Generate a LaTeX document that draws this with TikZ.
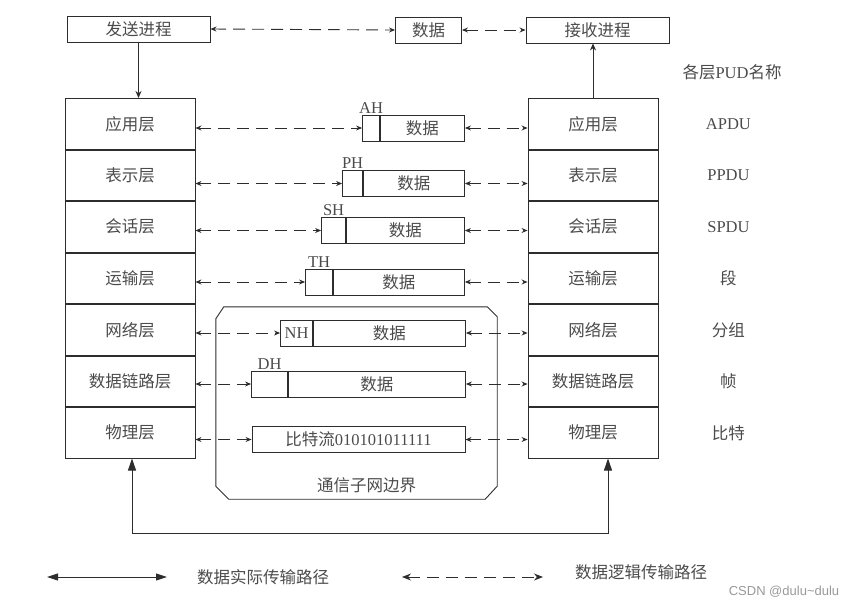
\documentclass[tikz,border=0pt]{standalone}
\usepackage{fontspec}
\setmainfont{Liberation Serif}
\newfontfamily\cjk{Noto Sans CJK SC}
\newfontfamily\wmfont{Liberation Sans}
\usetikzlibrary{arrows.meta, positioning}
\definecolor{inkcolor}{RGB}{45, 45, 45}
\definecolor{textcolor}{RGB}{75, 75, 75}
\newcommand{\zh}[1]{{\cjk #1}}
\tikzset{
  layer/.style={
    rectangle, draw=inkcolor, line width=0.9pt,
    minimum width=130pt, minimum height=50.6pt, inner sep=0pt,
    font=\fontsize{16.5}{18}\selectfont, text=textcolor
  },
  procbox/.style={
    rectangle, draw=inkcolor, line width=0.9pt,
    minimum width=143pt, minimum height=26pt, inner sep=0pt,
    font=\fontsize{16.5}{18}\selectfont, text=textcolor
  },
  hdrbox/.style={
    rectangle, draw=inkcolor, line width=0.9pt,
    minimum height=26pt, inner sep=0pt,
    font=\fontsize{16.5}{18}\selectfont, text=textcolor
  },
  databox/.style={hdrbox},
  tag/.style={font=\fontsize{16.5}{18}\selectfont, text=textcolor, inner sep=1pt},
  subnet/.style={rectangle, minimum width=281pt, minimum height=192pt, inner sep=0pt},
  border/.style={draw=inkcolor, line width=0.9pt},
  arr/.style={-{Stealth[length=7pt, width=6pt]}, line width=0.9pt, color=inkcolor},
  darr/.style={{Stealth[length=6pt, width=5pt]}-{Stealth[length=6pt, width=5pt]},
    line width=0.9pt, color=inkcolor, dash pattern=on 12pt off 7pt},
  parr/.style={{Triangle[length=12pt, width=8pt]}-{Triangle[length=12pt, width=8pt]},
    line width=0.9pt, color=inkcolor}
}

\begin{document}
\begin{tikzpicture}[x=1pt, y=-1pt]
  \useasboundingbox (0,0) rectangle (860,606);

  % ── Processes ──────────────────────────────────────────────────
  \node[procbox] (send) at (138.5,29) {\zh{发送进程}};
  \node[procbox, minimum width=66pt] (topdata) at (428.5,30) {\zh{数据}};
  \node[procbox] (recv) at (597.5,30) {\zh{接收进程}};

  % ── Communication subnet ───────────────────────────────────────
  \node[subnet] (subnet) at (356.5,403) {};
  \draw[border]
    ([yshift=-12pt]subnet.north west) -- ([xshift=8pt]subnet.north west)
    -- ([xshift=-10pt]subnet.north east) -- ([yshift=-10pt]subnet.north east)
    -- ([yshift=13pt]subnet.south east) -- ([xshift=-12pt]subnet.south east)
    -- ([xshift=13pt]subnet.south west) -- ([yshift=13pt]subnet.south west) -- cycle;
  \node[tag, anchor=south] (subnetlbl) at ([xshift=10pt, yshift=5pt]subnet.south) {\zh{通信子网边界}};

  % ── Sender stack ───────────────────────────────────────────────
  \node[layer] (L1) at (130,123.75) {\zh{应用层}};
  \node[layer, below=0pt of L1] (L2) {\zh{表示层}};
  \node[layer, below=0pt of L2] (L3) {\zh{会话层}};
  \node[layer, below=0pt of L3] (L4) {\zh{运输层}};
  \node[layer, below=0pt of L4] (L5) {\zh{网络层}};
  \node[layer, below=0pt of L5] (L6) {\zh{数据链路层}};
  \node[layer, below=0pt of L6] (L7) {\zh{物理层}};

  % ── Receiver stack ─────────────────────────────────────────────
  \node[layer] (R1) at (593,123.75) {\zh{应用层}};
  \node[layer, below=0pt of R1] (R2) {\zh{表示层}};
  \node[layer, below=0pt of R2] (R3) {\zh{会话层}};
  \node[layer, below=0pt of R3] (R4) {\zh{运输层}};
  \node[layer, below=0pt of R4] (R5) {\zh{网络层}};
  \node[layer, below=0pt of R5] (R6) {\zh{数据链路层}};
  \node[layer, below=0pt of R6] (R7) {\zh{物理层}};

  % ── PDU names ──────────────────────────────────────────────────
  \node[tag] (pduhead) at (732,72) {\zh{各层}PUD\zh{名称}};
  \node[tag] (apdu) at ([xshift=70pt]R1.east) {APDU};
  \node[tag] (ppdu) at ([xshift=70pt]R2.east) {PPDU};
  \node[tag] (spdu) at ([xshift=70pt]R3.east) {SPDU};
  \node[tag] (tpdu) at ([xshift=70pt]R4.east) {\zh{段}};
  \node[tag] (npdu) at ([xshift=70pt]R5.east) {\zh{分组}};
  \node[tag] (dpdu) at ([xshift=70pt]R6.east) {\zh{帧}};
  \node[tag] (bpdu) at ([xshift=70pt]R7.east) {\zh{比特}};

  % ── Packets ────────────────────────────────────────────────────
  \node[hdrbox, minimum width=17pt, anchor=east] (ah) at (380,128) {};
  \node[databox, minimum width=84pt, right=0pt of ah] (ahdata) {\zh{数据}};
  \node[tag, above=0pt of ah] (ahlbl) {AH};

  \node[hdrbox, minimum width=20pt, anchor=east] (ph) at (363,183.5) {};
  \node[databox, minimum width=101pt, right=0pt of ph] (phdata) {\zh{数据}};
  \node[tag, above=0pt of ph] (phlbl) {PH};

  \node[hdrbox, minimum width=24pt, anchor=east] (sh) at (346,230.5) {};
  \node[databox, minimum width=118pt, right=0pt of sh] (shdata) {\zh{数据}};
  \node[tag, above=0pt of sh] (shlbl) {SH};

  \node[hdrbox, minimum width=27pt, anchor=east] (th) at (333,282) {};
  \node[databox, minimum width=131pt, right=0pt of th] (thdata) {\zh{数据}};
  \node[tag, above=0pt of th] (thlbl) {TH};

  \node[hdrbox, minimum width=32pt, anchor=east] (nh) at (313,333) {NH};
  \node[databox, minimum width=152pt, right=0pt of nh] (nhdata) {\zh{数据}};

  \node[hdrbox, minimum width=36pt, anchor=east] (dh) at (288,384) {};
  \node[databox, minimum width=177pt, right=0pt of dh] (dhdata) {\zh{数据}};
  \node[tag, above=0pt of dh] (dhlbl) {DH};

  \node[databox, minimum width=213pt] (bits) at (358.5,439.5) {\zh{比特流}010101011111};

  % ── Process arrows ─────────────────────────────────────────────
  \draw[arr] (send.south) -- (send.south |- L1.north);
  \draw[arr] (R1.north) -- (R1.north |- recv.south);
  \draw[darr] (send.east) -- (topdata.west);
  \draw[darr] (topdata.east) -- (recv.west);

  % ── Logical paths ──────────────────────────────────────────────
  \draw[darr] (L1.east |- ah.west) -- (ah.west);
  \draw[darr] (L2.east |- ph.west) -- (ph.west);
  \draw[darr] (L3.east |- sh.west) -- (sh.west);
  \draw[darr] (L4.east |- th.west) -- (th.west);
  \draw[darr] (L5.east |- nh.west) -- (nh.west);
  \draw[darr] (L6.east |- dh.west) -- (dh.west);
  \draw[darr] (L7.east |- bits.west) -- (bits.west);

  \draw[darr] (ahdata.east) -- (ahdata.east -| R1.west);
  \draw[darr] (phdata.east) -- (phdata.east -| R2.west);
  \draw[darr] (shdata.east) -- (shdata.east -| R3.west);
  \draw[darr] (thdata.east) -- (thdata.east -| R4.west);
  \draw[darr] (nhdata.east) -- (nhdata.east -| R5.west);
  \draw[darr] (dhdata.east) -- (dhdata.east -| R6.west);
  \draw[darr] (bits.east) -- (bits.east -| R7.west);

  % ── Physical path ──────────────────────────────────────────────
  \coordinate (busL) at (132,533);
  \coordinate (busR) at (608,533);
  \draw[parr] (L7.south -| busL) -- (busL) -- (busR) -- (busR |- R7.south);

  % ── Legend ─────────────────────────────────────────────────────
  \coordinate (realA) at (47,577);
  \coordinate (realB) at (167,577);
  \draw[parr, {Triangle[length=11pt, width=7pt]}-{Triangle[length=11pt, width=7pt]}] (realA) -- (realB);
  \node[tag] (reallbl) at (263,577) {\zh{数据实际传输路径}};

  \coordinate (logA) at (402,577);
  \coordinate (logB) at (543,577);
  \draw[darr, {Stealth[length=9pt, width=7pt]}-{Stealth[length=9pt, width=7pt]}] (logA) -- (logB);
  \node[tag] (loglbl) at (641,572) {\zh{数据逻辑传输路径}};

  \node[font=\wmfont\fontsize{13}{14}\selectfont, text=gray!80] (mark) at (784,592) {CSDN @dulu\textasciitilde dulu};

\end{tikzpicture}
\end{document}
